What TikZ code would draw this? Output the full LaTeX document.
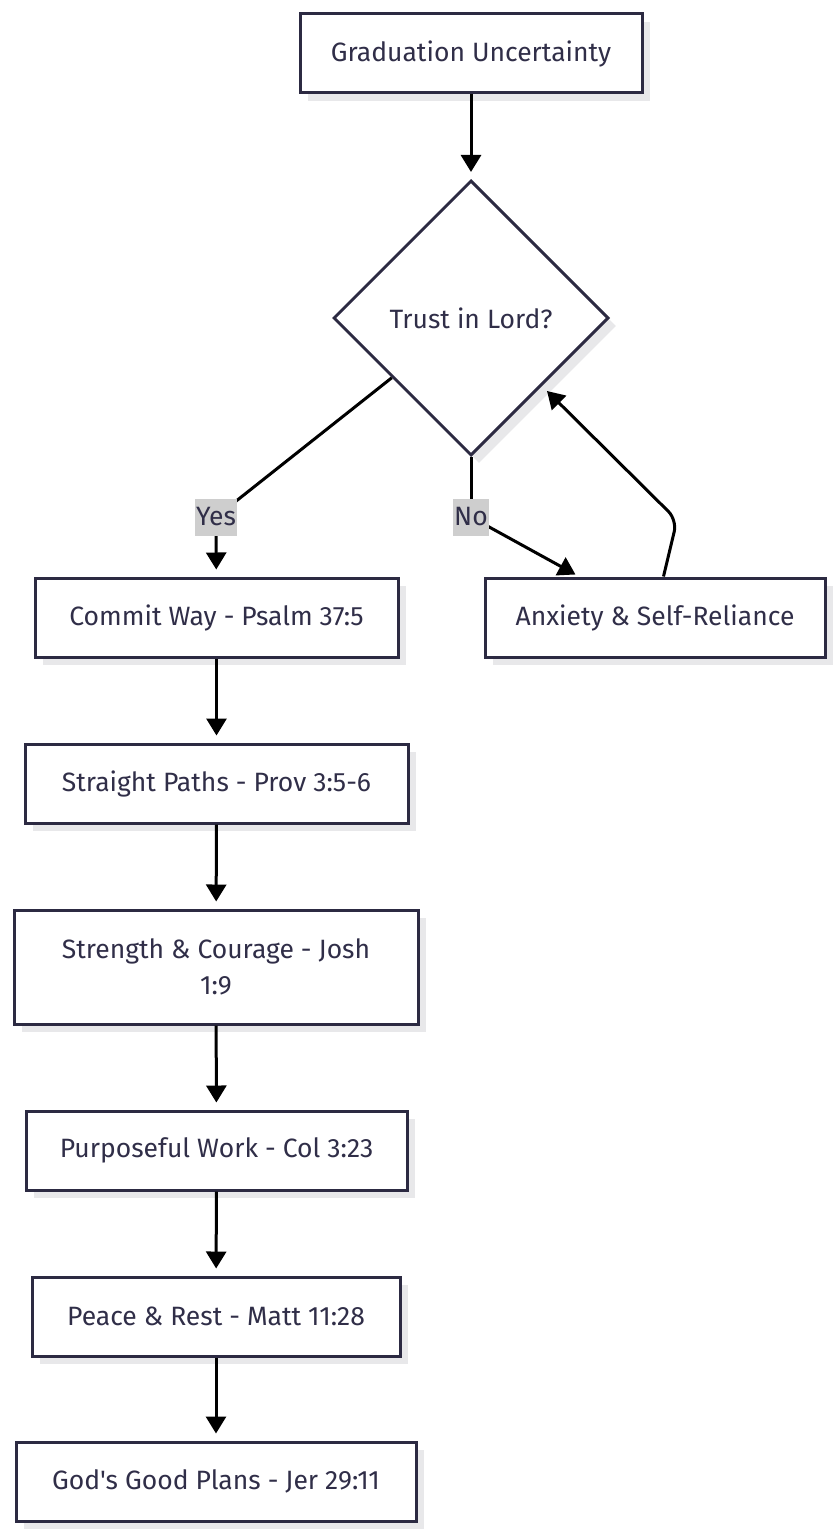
\documentclass[tikz,border=0pt]{standalone}
\usepackage{fontspec}
\newfontfamily\diagfont{Fira Sans}
\usetikzlibrary{shapes.geometric,arrows.meta,shadows,calc}
\definecolor{edgec}{RGB}{44,42,66}
\definecolor{txtc}{RGB}{48,46,72}
\definecolor{shadowc}{RGB}{232,232,234}
\definecolor{lblc}{RGB}{206,206,206}
\begin{document}
\begin{tikzpicture}[x=1pt,y=-1pt,
  box/.style={draw=edgec, line width=3pt, fill=white, minimum height=79pt, inner sep=0pt,
    font=\diagfont\fontsize{26.5}{36}\selectfont, text=txtc, align=center,
    drop shadow={shadow xshift=8pt,shadow yshift=-8pt,fill=shadowc,opacity=1}},
  dia/.style={box, shape=diamond, minimum width=275pt, minimum height=275pt, aspect=1},
  arr/.style={draw=black, line width=3pt, -{Triangle[length=17pt,width=20pt]}},
  ln/.style={draw=black, line width=3pt},
  lbl/.style={fill=lblc, text=txtc, inner sep=1pt, minimum height=37pt, font=\diagfont\fontsize{26.5}{30}\selectfont}]
\useasboundingbox (0,0) rectangle (839,1536);

\node[box, minimum width=342pt] (grad) at (471,53.5) {Graduation Uncertainty};
\node[dia] (trust) at (471,318) {Trust in Lord?};
\node[box, minimum width=363pt] (commit) at (216.5,617.5) {Commit Way - Psalm 37:5};
\node[box, minimum width=340pt] (anx) at (655,617.5) {Anxiety \& Self-Reliance};
\node[box, minimum width=383pt] (paths) at (216.5,783.5) {Straight Paths - Prov 3:5-6};
\node[box, minimum width=404pt, minimum height=114pt] (strength) at (216,967) {Strength \& Courage - Josh\\1:9};
\node[box, minimum width=381pt] (work) at (216.5,1150.5) {Purposeful Work - Col 3:23};
\node[box, minimum width=368pt] (peace) at (216,1316.5) {Peace \& Rest - Matt 11:28};
\node[box, minimum width=400pt] (plans) at (216,1481.5) {God's Good Plans - Jer 29:11};

\coordinate (yesc) at (216,517);
\coordinate (noc) at (471,517);

\draw[arr, shorten >=7pt] (grad) -- (trust);
\draw[ln] ($(trust.west)!0.43!(trust.south)$) -- (yesc);
\draw[arr, shorten >=7pt] (yesc) -- (commit);
\draw[ln] (trust.south) -- (noc);
\draw[arr] (noc) -- ($(anx.north west)+(92,-2)$);
\draw[arr, rounded corners=12pt] ($(anx.north west)+(180,0)$) -- (677,520) -- ($(trust.center)+(76,73)$);
\draw[arr, shorten >=7pt] (commit) -- (paths);
\draw[arr, shorten >=7pt] (paths) -- (strength);
\draw[arr, shorten >=7pt] (strength) -- (work);
\draw[arr, shorten >=7pt] (work) -- (peace);
\draw[arr, shorten >=7pt] (peace) -- (plans);

\node[lbl, minimum width=41pt] (yes) at (yesc) {Yes};
\node[lbl, minimum width=31pt] (no) at (noc) {No};
\end{tikzpicture}
\end{document}
